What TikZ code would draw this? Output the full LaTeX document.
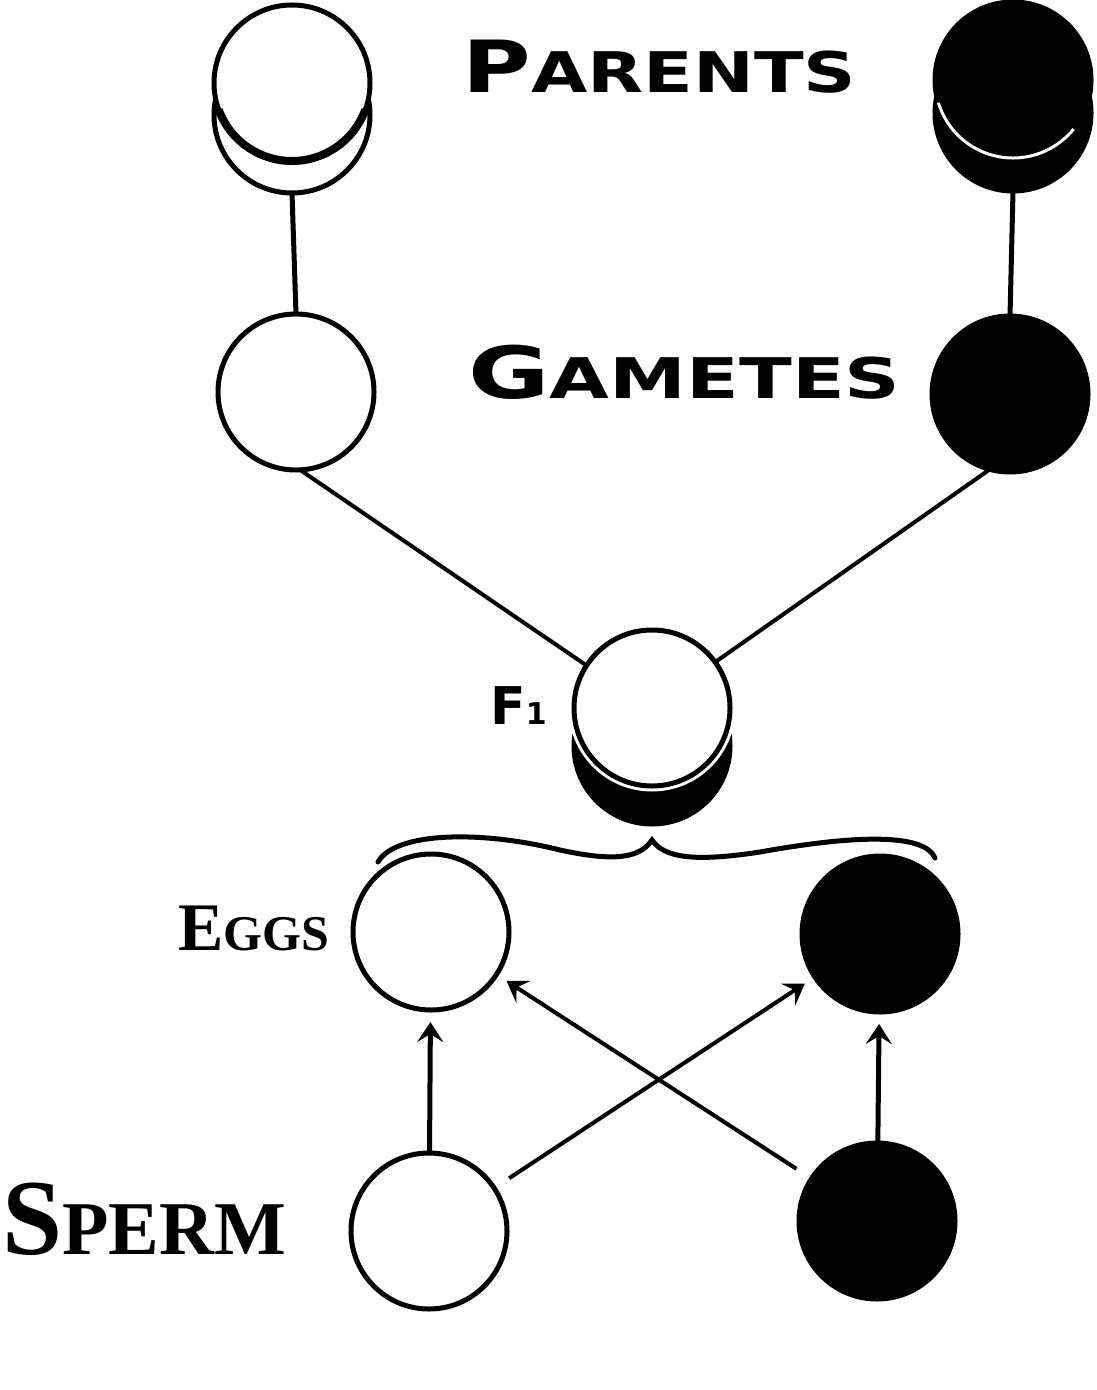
\documentclass[tikz,border=0pt]{standalone}
\usepackage{fontspec}
\usepackage{graphicx}
\usetikzlibrary{arrows.meta, calc}
\newfontfamily\capsans{DejaVu Sans}
\newfontfamily\capserif{Liberation Serif}

\begin{document}
\begin{tikzpicture}[x=0.5pt, y=0.5pt]
    \tikzset{cell/.style={circle, draw=black, line width=2.5pt, minimum size=78pt,
                          inner sep=0pt, outer sep=0pt},
             light/.style={cell, fill=white},
             dark/.style={cell, fill=black},
             halo/.style={cell, draw=white, fill=white, line width=5.5pt},
             stem/.style={line width=2.5pt},
             cross/.style={line width=2pt, -{Stealth[length=10pt, width=13pt, inset=4pt]}},
             heading/.style={anchor=base west, inner sep=0pt}}
    \useasboundingbox[fill=white] (0,0) rectangle (1096,-1390);
    % parents
    \node[light] (pwlow) at (292,-115) {};
    \node[light] (pw) at (292,-83) {};
    \draw[line width=4pt] (pw.200) arc[start angle=200, end angle=340, radius=39pt];
    \node[dark] (pblow) at (1013,-113) {};
    \node[dark] (pb) at (1013,-80) {};
    \draw[white, line width=1.5pt] (pb.197) arc[start angle=197, end angle=321, radius=39pt];
    % gametes
    \node[light] (gw) at (296,-392) {};
    \node[dark] (gb) at (1010,-394) {};
    \foreach \a/\b in {pwlow/gw, pblow/gb}
      \draw[stem] (\a.south) -- (\b.north);
    % F1
    \node[dark] (f1low) at (652,-746) {};
    \node[halo] (f1halo) at (652,-708) {};
    \node[light] (f1) at (652,-708) {};
    \draw[line width=2pt] (gw.-87) -- (f1.147);
    \draw[line width=2pt] (gb.255) -- (f1.36);
    \draw[line width=2.5pt, line cap=round] (378,-862) .. controls (395,-832) and (480,-830) .. (560,-850)
      .. controls (615,-862) and (640,-858) .. (652,-840) .. controls (664,-858) and (695,-862) .. (760,-852)
      .. controls (860,-834) and (925,-834) .. (935,-858);
    % eggs and sperm
    \node[light] (ew) at (431,-932) {};
    \node[dark] (eb) at (880,-934) {};
    \node[light] (sw) at (429,-1231) {};
    \node[dark] (sb) at (877,-1221) {};
    \foreach \a/\b in {sw/ew, sb/eb}
      \draw[cross, line width=2.5pt, shorten >=6pt] (\a) -- (\b);
    \foreach \a/\b in {sw/eb, sb/ew}
      \draw[cross, shorten <=9pt, shorten >=6pt] (\a) -- (\b);
    % labels
    \node[heading] (parents) at (462,-93) {\scalebox{1.3}[1]{\capsans\bfseries
      \fontsize{36}{36}\selectfont P\fontsize{28}{28}\selectfont ARENTS}};
    \node[heading] (gametes) at (468,-398) {\scalebox{1.38}[1]{\capsans\bfseries
      \fontsize{36}{36}\selectfont G\fontsize{28}{28}\selectfont AMETES}};
    \node[heading] (fone) at (490,-724) {\capsans\bfseries
      \fontsize{26}{26}\selectfont F\fontsize{15}{15}\selectfont 1};
    \node[heading] (eggs) at (178,-950) {\capserif\bfseries
      \fontsize{34}{34}\selectfont E\fontsize{25}{25}\selectfont GGS};
    \node[heading] (sperm) at (2,-1254) {\capserif\bfseries
      \fontsize{54}{54}\selectfont S\fontsize{38}{38}\selectfont PERM};
\end{tikzpicture}
\end{document}
